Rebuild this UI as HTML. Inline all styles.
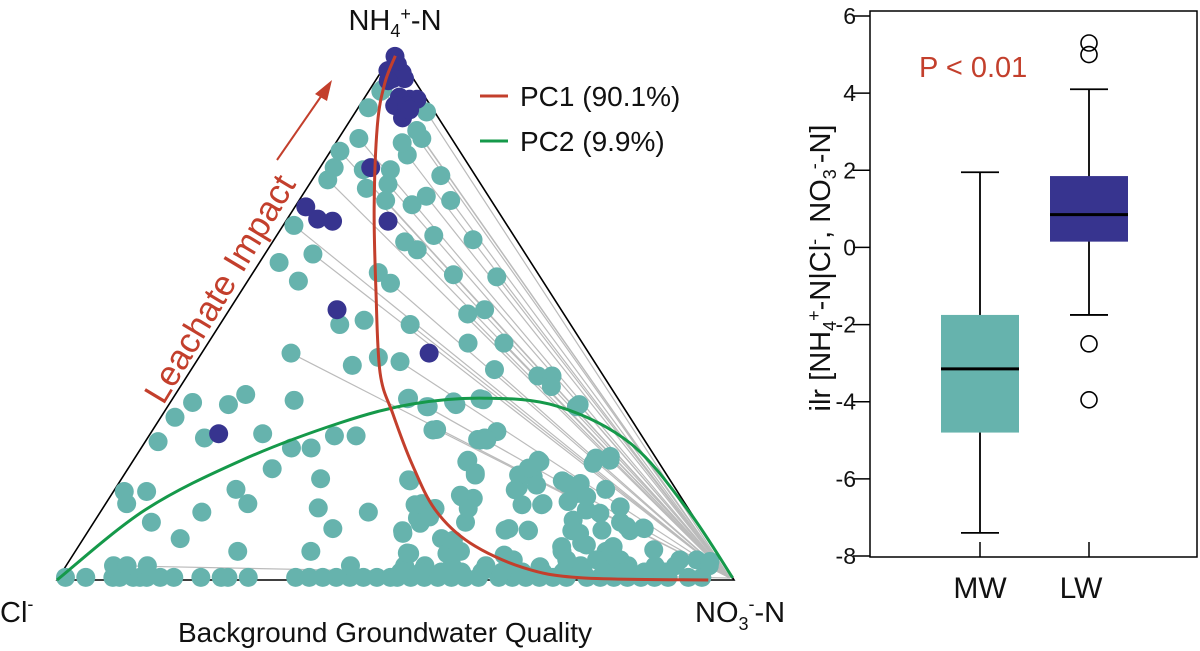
<!DOCTYPE html>
<html><head><meta charset="utf-8"><style>
body{margin:0;background:#fff;width:1200px;height:651px;overflow:hidden;font-family:"Liberation Sans",sans-serif}
svg{display:block}
</style></head><body>
<svg id="c" width="1200" height="651" viewBox="0 0 1200 651" font-family="Liberation Sans, sans-serif">
<g id="tern"></g>
<g id="box"></g>
</svg>
<script>
// Ternary data: [NH4 fraction, NO3 fraction]; Cl = 1 - NH4 - NO3
const mwNH4 = [0.005,0.005,0.005,0.005,0.005,0.005,0.005,0.005,0.005,0.005,0.005,0.005,0.005,0.005,0.005,0.005,0.005,0.005,0.005,0.005,0.005,0.005,0.005,0.005,0.005,0.005,0.005,0.005,0.005,0.005,0.005,0.005,0.005,0.005,0.005,0.005,0.005,0.005,0.005,0.005,
0.027,0.027,0.027,0.027,0.027,0.027,0.027,0.027,0.027,0.027,0.027,0.027,0.027,0.027,0.027,
0.167,0.167,0.144,0.109,0.078,0.128,0.171,0.144,0.054,0.054,0.136,0.097,0.128,0.051,0.093,0.117,0.144,0.187,0.16,0.226,0.202,0.109,0.097,0.093,0.047,0.175,0.195,0.226,0.144,0.187,0.163,0.132,0.23,0.171,0.233,0.109,0.093,0.097,0.093,0.07,0.054,0.054,0.054,0.078,0.268,0.265,0.191,0.21,0.249,0.249,0.272,0.272,0.261,0.268,0.276,0.307,0.335,0.331,0.35,0.339,0.327,0.331,0.342,0.385,0.385,0.331,0.284,0.28,0.342,
0.428,0.405,0.42,0.412,0.482,0.49,0.482,0.502,0.51,0.447,0.397,0.447,0.576,0.572,0.599,0.564,0.615,0.58,0.56,0.638,0.623,0.65,0.642,0.669,0.778,0.755,0.833,0.809,0.891,0.922,0.774,0.739,0.747,0.774,0.802,0.825,0.833,0.883,0.708,0.724,0.763,0.716,0.716,0.926,0.848,
0.343,0.327,0.336,0.340,0.283,0.264,0.264,0.223,0.198,0.189,0.198,0.223,0.211,0.179,0.170,0.142,0.142,0.182,0.182,0.148,0.157,0.220,0.226,0.157,0.154,0.135,0.142,0.135,0.088,0.107,0.119,0.050,0.050,0.075,0.094,0.094,0.113,0.126,0.138,0.088,0.094,0.101,0.098,0.063,0.066,0.063,0.057,0.038,0.038,0.038,0.038,0.038,0.035,0.038,0.025,0.327,0.365,
0.015,0.015,0.015,0.015,0.015,0.015,0.015,0.015,0.015,0.015,0.015,0.015,0.015,0.015,0.005,0.005,0.005];
const mwNO3 = [0.01,0.04,0.08,0.09,0.11,0.12,0.13,0.15,0.17,0.21,0.24,0.25,0.28,0.41,0.43,0.45,0.47,0.49,0.50,0.52,0.54,0.56,0.58,0.60,0.62,0.65,0.67,0.69,0.71,0.73,0.75,0.78,0.80,0.82,0.84,0.86,0.88,0.90,0.93,0.95,
0.07,0.09,0.12,0.42,0.50,0.53,0.57,0.62,0.74,0.76,0.80,0.83,0.87,0.90,0.95,
0.016,0.049,0.031,0.085,0.143,0.15,0.179,0.21,0.24,0.348,0.318,0.359,0.396,0.492,0.464,0.474,0.467,0.428,0.516,0.494,0.517,0.549,0.619,0.65,0.637,0.594,0.606,0.598,0.646,0.653,0.686,0.716,0.681,0.725,0.701,0.778,0.8,0.819,0.714,0.74,0.784,0.719,0.569,0.529,0.498,0.489,0.294,0.213,0.222,0.251,0.274,0.306,0.019,0.084,0.166,0.021,0.033,0.088,0.104,0.181,0.383,0.424,0.454,0.518,0.539,0.606,0.419,0.51,0.347,
0.132,0.234,0.265,0.301,0.177,0.209,0.281,0.356,0.377,0.437,0.448,0.384,0.298,0.364,0.029,0.075,0.071,0.185,0.213,0.195,0.221,0.232,0.294,0.016,0.021,0.023,0.03,0.014,0.015,0.018,0.066,0.088,0.116,0.106,0.117,0.098,0.123,0.105,0.171,0.184,0.186,0.224,0.128,0.019,0.108,
0.348,0.385,0.418,0.460,0.414,0.493,0.503,0.494,0.519,0.425,0.583,0.602,0.591,0.619,0.592,0.616,0.645,0.662,0.682,0.681,0.704,0.682,0.704,0.519,0.538,0.540,0.458,0.491,0.467,0.483,0.491,0.496,0.551,0.548,0.615,0.649,0.706,0.739,0.763,0.728,0.758,0.791,0.817,0.714,0.749,0.790,0.853,0.734,0.778,0.813,0.901,0.926,0.947,0.655,0.701,0.604,0.548,
0.50,0.53,0.56,0.59,0.62,0.65,0.68,0.71,0.74,0.77,0.80,0.83,0.86,0.89,0.35,0.37,0.39];
const lwNH4 = [0.704,0.681,0.677,0.778,0.677,0.51,0.428,0.276,0.988,0.973,0.961,0.957,0.946,0.946,0.942,0.911,0.907,0.907,0.895,0.895,0.872,0.887];
const lwNO3 = [0.016,0.045,0.069,0.075,0.151,0.159,0.336,0.101,0.006,0.017,0.009,0.032,0.024,0.041,0.019,0.051,0.068,0.079,0.052,0.07,0.075,0.078];
// indices of MW points connected to the NO3 vertex by grey mixing lines
const lineIdx = [40,115,120,121,124,127,130,131,133,134,136,137,140,141,143,147,149,150,151,155,156,158,160,161,163,165,166,167,168];
// PC curves in ternary [NH4, NO3]
const pc1NH4 = [0.989,0.938,0.860,0.704,0.547,0.391,0.313,0.219,0.132,0.070,0.023,0.004,0];
const pc1NO3 = [0.006,0.016,0.044,0.117,0.198,0.282,0.340,0.415,0.493,0.575,0.678,0.774,0.962];
const pc2NH4 = [0,0.132,0.226,0.296,0.332,0.343,0.328,0.258,0.132,0.004];
const pc2NO3 = [0,0.064,0.160,0.269,0.359,0.461,0.575,0.718,0.866,0.996];
// Box plot data
const boxCats = ['MW','LW'];
const boxQ1 = [-4.8,0.15];
const boxMed = [-3.15,0.85];
const boxQ3 = [-1.75,1.85];
const boxLo = [-7.4,-1.75];
const boxHi = [1.95,4.1];
const lwOutliers = [-2.5,-3.95,5.0,5.3];
const yTicks = [6,4,2,0,-2,-4,-6,-8];

const NS='http://www.w3.org/2000/svg';
function mk(tag,attrs,parent){const e=document.createElementNS(NS,tag);for(const k in attrs)e.setAttribute(k,attrs[k]);parent.appendChild(e);return e;}
const TEAL='#66b3ad', NAVY='#37348f', RED='#c33f2c', GREEN='#15994a';
const L=[57,580],T=[395,50],R=[734,580];
function tp(nh4,no3){const cl=1-nh4-no3;return [cl*L[0]+nh4*T[0]+no3*R[0], cl*L[1]+nh4*T[1]+no3*R[1]];}
const tg=document.getElementById('tern');

lineIdx.forEach(i=>{const p=tp(mwNH4[i],mwNO3[i]);
const ln=mk('line',{x1:p[0],y1:p[1],x2:R[0]-4,y2:R[1]-2,stroke:'#bbbbbb','stroke-width':1.2},tg);

});

const tri=mk('polygon',{points:[L,T,R].map(p=>p.join(',')).join(' '),fill:'none',stroke:'#000','stroke-width':1.6},tg);



mwNH4.forEach((v,i)=>{const p=tp(v,mwNO3[i]);
const c=mk('circle',{cx:p[0],cy:p[1],r:9.5,fill:TEAL},tg);

});
lwNH4.forEach((v,i)=>{const p=tp(v,lwNO3[i]);
const c=mk('circle',{cx:p[0],cy:p[1],r:9.5,fill:NAVY},tg);

});

function smooth(a,b){const p=a.map((v,i)=>tp(v,b[i]));let d='M'+p[0].join(',');
for(let i=0;i<p.length-1;i++){const p0=p[i>0?i-1:0],p1=p[i],p2=p[i+1],p3=p[i+2<p.length?i+2:i+1];
const c1=[p1[0]+(p2[0]-p0[0])/6,p1[1]+(p2[1]-p0[1])/6],c2=[p2[0]-(p3[0]-p1[0])/6,p2[1]-(p3[1]-p1[1])/6];
d+=' C'+c1.join(',')+' '+c2.join(',')+' '+p2.join(',');}return d;}
const pc2=mk('path',{d:smooth(pc2NH4,pc2NO3),fill:'none',stroke:GREEN,'stroke-width':3},tg);


const pc1=mk('path',{d:smooth(pc1NH4,pc1NO3),fill:'none',stroke:RED,'stroke-width':3},tg);



// Box plot
const bg=document.getElementById('box');
const X0=870,X1=1197,YT=11,YB=557;
function yS(v){return 16+(6-v)*(556-16)/14;}
const catX=[980,1089], bw=78;
const fr=mk('rect',{x:X0,y:YT,width:X1-X0,height:YB-YT,fill:'none',stroke:'#000','stroke-width':1.5},bg);


yTicks.forEach(t=>{const y=yS(t);
const tk=mk('line',{x1:X0-17,x2:X0,y1:y,y2:y,stroke:'#000','stroke-width':1.5},bg);


const tx=mk('text',{x:X0-14,y:y+8,'text-anchor':'end','font-size':23,fill:'#111'},bg);
tx.textContent=t;

});
const fills=[TEAL,NAVY];
boxCats.forEach((c,i)=>{const x=catX[i];
const w=mk('line',{x1:x,x2:x,y1:yS(boxHi[i]),y2:yS(boxLo[i]),stroke:'#000','stroke-width':1.8},bg);


[boxHi[i],boxLo[i]].forEach(v=>{const cap=mk('line',{x1:x-19,x2:x+19,y1:yS(v),y2:yS(v),stroke:'#000','stroke-width':1.8},bg);

});
const b=mk('rect',{x:x-bw/2,y:yS(boxQ3[i]),width:bw,height:yS(boxQ1[i])-yS(boxQ3[i]),fill:fills[i]},bg);


const m=mk('line',{x1:x-bw/2,x2:x+bw/2,y1:yS(boxMed[i]),y2:yS(boxMed[i]),stroke:'#000','stroke-width':3},bg);


const xt=mk('line',{x1:x,x2:x,y1:YB-15,y2:YB,stroke:'#000','stroke-width':1.5},bg);


const lb=mk('text',{x:x-(i?8:0),y:598,'text-anchor':'middle','font-size':30,fill:'#111'},bg);
lb.textContent=c;

});
lwOutliers.forEach(v=>{const o=mk('circle',{cx:catX[1],cy:yS(v),r:8,fill:'none',stroke:'#000','stroke-width':1.6},bg);

});
</script>
<svg style="position:absolute;left:0;top:0" width="1200" height="651" font-family="Liberation Sans, sans-serif">
<text x="395" y="30" text-anchor="middle" font-size="29" fill="#111">NH<tspan font-size="18" dy="7">4</tspan><tspan font-size="18" dy="-17">+</tspan><tspan dy="10">-N</tspan></text>
<text x="0" y="622" font-size="29" fill="#111">Cl<tspan font-size="18" dy="-12">-</tspan></text>
<text x="695" y="622" font-size="29" fill="#111">NO<tspan font-size="18" dy="8">3</tspan><tspan font-size="18" dy="-20">-</tspan><tspan dy="12">-N</tspan></text>
<text x="385" y="642" text-anchor="middle" font-size="28" fill="#111">Background Groundwater Quality</text>
<text transform="translate(230,295) rotate(-59)" text-anchor="middle" font-size="35" fill="#c33f2c">Leachate Impact</text>
<line x1="277" y1="160" x2="322" y2="95" stroke="#c33f2c" stroke-width="2"/>
<polygon points="332,80 315,94 327,101" fill="#c33f2c"/>
<line x1="480" y1="96" x2="508" y2="96" stroke="#c33f2c" stroke-width="3"/>
<text x="520" y="106" font-size="28" fill="#111">PC1 (90.1%)</text>
<line x1="480" y1="141" x2="508" y2="141" stroke="#15994a" stroke-width="3"/>
<text x="520" y="151" font-size="28" fill="#111">PC2 (9.9%)</text>
<text x="919" y="77" font-size="29" fill="#c33f2c">P &lt; 0.01</text>
<text transform="translate(830,268) rotate(-90)" text-anchor="middle" font-size="29" fill="#111">ilr [NH<tspan font-size="18" dy="6">4</tspan><tspan font-size="18" dy="-16">+</tspan><tspan dy="10">-N|Cl</tspan><tspan font-size="18" dy="-10">-</tspan><tspan dy="10">, NO</tspan><tspan font-size="18" dy="6">3</tspan><tspan font-size="18" dy="-16">-</tspan><tspan dy="10">-N]</tspan></text>
</svg>
</body></html>
